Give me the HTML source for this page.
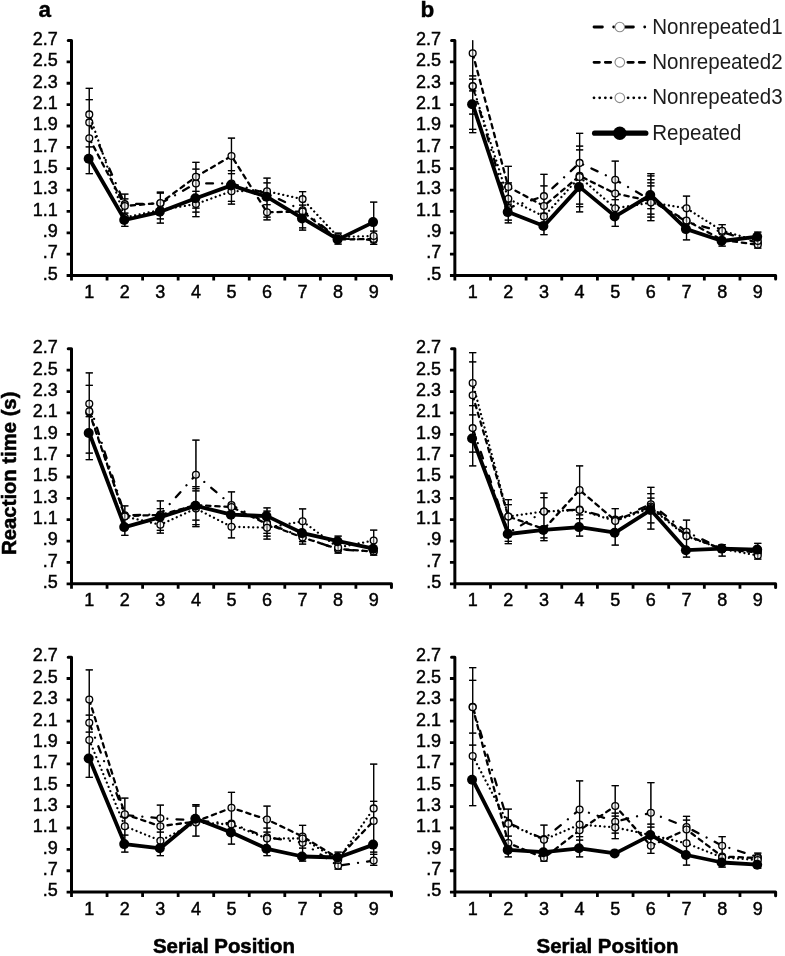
<!DOCTYPE html>
<html lang="en"><head><meta charset="utf-8"><title>Reaction time by serial position</title>
<style>html,body{margin:0;padding:0;background:#fff}svg{display:block;filter:blur(.45px)}text{font-family:"Liberation Sans",Arial,Helvetica,sans-serif;fill:#000}.tk{font-size:18px;stroke:#000;stroke-width:.45px}.tt{font-size:20.45px;font-weight:bold;stroke:#000;stroke-width:.55px}.pl{font-size:22.5px;font-weight:bold;stroke:#000;stroke-width:.4px}.lg{font-size:21.3px;fill:#1c1c1c}.ax{fill:none;stroke:#000;stroke-width:3;stroke-linejoin:round;stroke-linecap:round}.t{stroke:#000;stroke-width:2.8;stroke-linecap:butt}.ln{fill:none;stroke:#000;stroke-linecap:round;stroke-linejoin:round}.eb{stroke:#000;stroke-width:1.25;fill:none}.om{fill:#fff;fill-opacity:.9;stroke:#000;stroke-width:1.35}.fm{fill:#000}</style></head><body>
<svg width="785" height="956" viewBox="0 0 785 956">
<rect width="785" height="956" fill="#fff"/>
<g id="a1">
<path class="ax" d="M68.20 40.54H71.50V275.50H391.45V279.10"/>
<path class="t" d="M66.60 275.50H71.50M66.60 254.14H71.50M66.60 232.78H71.50M66.60 211.42H71.50M66.60 190.06H71.50M66.60 168.70H71.50M66.60 147.34H71.50M66.60 125.98H71.50M66.60 104.62H71.50M66.60 83.26H71.50M66.60 61.90H71.50M71.50 275.50V280.40M107.05 275.50V280.40M142.60 275.50V280.40M178.15 275.50V280.40M213.70 275.50V280.40M249.25 275.50V280.40M284.80 275.50V280.40M320.35 275.50V280.40M355.90 275.50V280.40"/>
<text class="tk" text-anchor="end" x="57.80" y="279.80">.5</text>
<text class="tk" text-anchor="end" x="57.80" y="258.44">.7</text>
<text class="tk" text-anchor="end" x="57.80" y="237.08">.9</text>
<text class="tk" text-anchor="end" x="57.80" y="215.72">1.1</text>
<text class="tk" text-anchor="end" x="57.80" y="194.36">1.3</text>
<text class="tk" text-anchor="end" x="57.80" y="173.00">1.5</text>
<text class="tk" text-anchor="end" x="57.80" y="151.64">1.7</text>
<text class="tk" text-anchor="end" x="57.80" y="130.28">1.9</text>
<text class="tk" text-anchor="end" x="57.80" y="108.92">2.1</text>
<text class="tk" text-anchor="end" x="57.80" y="87.56">2.3</text>
<text class="tk" text-anchor="end" x="57.80" y="66.20">2.5</text>
<text class="tk" text-anchor="end" x="57.80" y="44.84">2.7</text>
<text class="tk" text-anchor="middle" x="89.28" y="297.90">1</text>
<text class="tk" text-anchor="middle" x="124.82" y="297.90">2</text>
<text class="tk" text-anchor="middle" x="160.38" y="297.90">3</text>
<text class="tk" text-anchor="middle" x="195.92" y="297.90">4</text>
<text class="tk" text-anchor="middle" x="231.47" y="297.90">5</text>
<text class="tk" text-anchor="middle" x="267.02" y="297.90">6</text>
<text class="tk" text-anchor="middle" x="302.57" y="297.90">7</text>
<text class="tk" text-anchor="middle" x="338.12" y="297.90">8</text>
<text class="tk" text-anchor="middle" x="373.67" y="297.90">9</text>
<path class="eb" d="M89.28 88.30V173.60M85.68 88.30H92.88M85.68 99.70H92.88M85.68 146.90H92.88M85.68 173.60H92.88M124.82 194.00V226.40M121.22 194.00H128.42M121.22 198.80H128.42M121.22 213.00H128.42M121.22 226.40H128.42M160.38 192.00V223.20M156.78 192.00H163.97M156.78 193.00H163.97M156.78 218.80H163.97M156.78 223.20H163.97M195.92 162.40V216.50M192.32 162.40H199.52M192.32 169.10H199.52M192.32 191.40H199.52M192.32 208.00H199.52M192.32 212.00H199.52M192.32 216.50H199.52M231.47 138.00V204.20M227.88 138.00H235.07M227.88 170.50H235.07M227.88 173.60H235.07M227.88 201.40H235.07M227.88 204.20H235.07M267.02 178.20V219.90M263.42 178.20H270.62M263.42 182.80H270.62M263.42 204.50H270.62M263.42 217.20H270.62M263.42 219.90H270.62M302.57 191.50V230.20M298.97 191.50H306.18M298.97 205.00H306.18M298.97 227.90H306.18M298.97 230.20H306.18M338.12 233.00V244.00M334.52 233.00H341.73M334.52 244.00H341.73M373.67 202.00V244.30M370.07 202.00H377.27M370.07 231.00H377.27M370.07 244.30H377.27"/>
<polyline class="ln" stroke-width="2.3" stroke-dasharray="6.80 9.15 0.01 9.15" points="89.28,122.40 124.82,204.10 160.38,203.50 195.92,183.40 231.47,183.50 267.02,193.50 302.57,210.30 338.12,238.50 373.67,240.00"/>
<circle class="om" cx="89.28" cy="122.40" r="3.4"/>
<circle class="om" cx="124.82" cy="204.10" r="3.4"/>
<circle class="om" cx="160.38" cy="203.50" r="3.4"/>
<circle class="om" cx="195.92" cy="183.40" r="3.4"/>
<circle class="om" cx="231.47" cy="183.50" r="3.4"/>
<circle class="om" cx="267.02" cy="193.50" r="3.4"/>
<circle class="om" cx="302.57" cy="210.30" r="3.4"/>
<circle class="om" cx="338.12" cy="238.50" r="3.4"/>
<circle class="om" cx="373.67" cy="240.00" r="3.4"/>
<polyline class="ln" stroke-width="2.3" stroke-dasharray="4.37 4.78" points="89.28,138.30 124.82,206.00 160.38,203.00 195.92,176.75 231.47,156.00 267.02,212.30 302.57,211.50 338.12,239.50 373.67,239.00"/>
<circle class="om" cx="89.28" cy="138.30" r="3.4"/>
<circle class="om" cx="124.82" cy="206.00" r="3.4"/>
<circle class="om" cx="160.38" cy="203.00" r="3.4"/>
<circle class="om" cx="195.92" cy="176.75" r="3.4"/>
<circle class="om" cx="231.47" cy="156.00" r="3.4"/>
<circle class="om" cx="267.02" cy="212.30" r="3.4"/>
<circle class="om" cx="302.57" cy="211.50" r="3.4"/>
<circle class="om" cx="338.12" cy="239.50" r="3.4"/>
<circle class="om" cx="373.67" cy="239.00" r="3.4"/>
<polyline class="ln" stroke-width="2.3" stroke-dasharray="0.01 4.59" points="89.28,114.40 124.82,217.50 160.38,210.00 195.92,204.10 231.47,191.20 267.02,191.20 302.57,199.10 338.12,237.00 373.67,236.00"/>
<circle class="om" cx="89.28" cy="114.40" r="3.4"/>
<circle class="om" cx="124.82" cy="217.50" r="3.4"/>
<circle class="om" cx="160.38" cy="210.00" r="3.4"/>
<circle class="om" cx="195.92" cy="204.10" r="3.4"/>
<circle class="om" cx="231.47" cy="191.20" r="3.4"/>
<circle class="om" cx="267.02" cy="191.20" r="3.4"/>
<circle class="om" cx="302.57" cy="199.10" r="3.4"/>
<circle class="om" cx="338.12" cy="237.00" r="3.4"/>
<circle class="om" cx="373.67" cy="236.00" r="3.4"/>
<polyline class="ln" stroke-width="3.8" points="89.28,158.70 124.82,220.00 160.38,211.80 195.92,198.20 231.47,185.40 267.02,196.80 302.57,218.40 338.12,239.40 373.67,222.10"/>
<circle class="fm" cx="88.68" cy="158.70" r="5.0"/>
<circle class="fm" cx="124.22" cy="220.00" r="5.0"/>
<circle class="fm" cx="159.78" cy="211.80" r="5.0"/>
<circle class="fm" cx="195.32" cy="198.20" r="5.0"/>
<circle class="fm" cx="230.88" cy="185.40" r="5.0"/>
<circle class="fm" cx="266.42" cy="196.80" r="5.0"/>
<circle class="fm" cx="301.97" cy="218.40" r="5.0"/>
<circle class="fm" cx="337.52" cy="239.40" r="5.0"/>
<circle class="fm" cx="373.07" cy="222.10" r="5.0"/>
<path class="eb" stroke-opacity=".6" d="M89.28 88.30V173.60M85.68 88.30H92.88M85.68 99.70H92.88M85.68 146.90H92.88M85.68 173.60H92.88M124.82 194.00V226.40M121.22 194.00H128.42M121.22 198.80H128.42M121.22 213.00H128.42M121.22 226.40H128.42M160.38 192.00V223.20M156.78 192.00H163.97M156.78 193.00H163.97M156.78 218.80H163.97M156.78 223.20H163.97M195.92 162.40V216.50M192.32 162.40H199.52M192.32 169.10H199.52M192.32 191.40H199.52M192.32 208.00H199.52M192.32 212.00H199.52M192.32 216.50H199.52M231.47 138.00V204.20M227.88 138.00H235.07M227.88 170.50H235.07M227.88 173.60H235.07M227.88 201.40H235.07M227.88 204.20H235.07M267.02 178.20V219.90M263.42 178.20H270.62M263.42 182.80H270.62M263.42 204.50H270.62M263.42 217.20H270.62M263.42 219.90H270.62M302.57 191.50V230.20M298.97 191.50H306.18M298.97 205.00H306.18M298.97 227.90H306.18M298.97 230.20H306.18M338.12 233.00V244.00M334.52 233.00H341.73M334.52 244.00H341.73M373.67 202.00V244.30M370.07 202.00H377.27M370.07 231.00H377.27M370.07 244.30H377.27"/>
</g>
<g id="b1">
<path class="ax" d="M451.55 40.54H454.85V275.50H775.61V279.10"/>
<path class="t" d="M449.95 275.50H454.85M449.95 254.14H454.85M449.95 232.78H454.85M449.95 211.42H454.85M449.95 190.06H454.85M449.95 168.70H454.85M449.95 147.34H454.85M449.95 125.98H454.85M449.95 104.62H454.85M449.95 83.26H454.85M449.95 61.90H454.85M454.85 275.50V280.40M490.49 275.50V280.40M526.13 275.50V280.40M561.77 275.50V280.40M597.41 275.50V280.40M633.05 275.50V280.40M668.69 275.50V280.40M704.33 275.50V280.40M739.97 275.50V280.40"/>
<text class="tk" text-anchor="end" x="441.15" y="279.80">.5</text>
<text class="tk" text-anchor="end" x="441.15" y="258.44">.7</text>
<text class="tk" text-anchor="end" x="441.15" y="237.08">.9</text>
<text class="tk" text-anchor="end" x="441.15" y="215.72">1.1</text>
<text class="tk" text-anchor="end" x="441.15" y="194.36">1.3</text>
<text class="tk" text-anchor="end" x="441.15" y="173.00">1.5</text>
<text class="tk" text-anchor="end" x="441.15" y="151.64">1.7</text>
<text class="tk" text-anchor="end" x="441.15" y="130.28">1.9</text>
<text class="tk" text-anchor="end" x="441.15" y="108.92">2.1</text>
<text class="tk" text-anchor="end" x="441.15" y="87.56">2.3</text>
<text class="tk" text-anchor="end" x="441.15" y="66.20">2.5</text>
<text class="tk" text-anchor="end" x="441.15" y="44.84">2.7</text>
<text class="tk" text-anchor="middle" x="472.67" y="297.90">1</text>
<text class="tk" text-anchor="middle" x="508.31" y="297.90">2</text>
<text class="tk" text-anchor="middle" x="543.95" y="297.90">3</text>
<text class="tk" text-anchor="middle" x="579.59" y="297.90">4</text>
<text class="tk" text-anchor="middle" x="615.23" y="297.90">5</text>
<text class="tk" text-anchor="middle" x="650.87" y="297.90">6</text>
<text class="tk" text-anchor="middle" x="686.51" y="297.90">7</text>
<text class="tk" text-anchor="middle" x="722.15" y="297.90">8</text>
<text class="tk" text-anchor="middle" x="757.79" y="297.90">9</text>
<path class="eb" d="M472.67 40.20V132.50M469.07 75.90H476.27M469.07 79.00H476.27M469.07 90.90H476.27M469.07 114.00H476.27M469.07 129.40H476.27M469.07 132.50H476.27M508.31 166.40V222.80M504.71 166.40H511.91M504.71 182.80H511.91M504.71 201.90H511.91M504.71 204.20H511.91M504.71 206.50H511.91M504.71 220.20H511.91M504.71 222.80H511.91M543.95 174.30V234.70M540.35 174.30H547.55M540.35 185.80H547.55M540.35 213.30H547.55M540.35 234.70H547.55M579.59 133.40V211.80M575.99 133.40H583.19M575.99 146.00H583.19M575.99 149.90H583.19M575.99 204.20H583.19M575.99 206.50H583.19M575.99 211.80H583.19M615.23 161.00V226.30M611.63 161.00H618.83M611.63 199.60H618.83M611.63 226.30H618.83M650.87 173.60V220.50M647.27 173.60H654.47M647.27 175.90H654.47M647.27 179.70H654.47M647.27 182.80H654.47M647.27 185.80H654.47M647.27 208.70H654.47M647.27 214.10H654.47M647.27 217.20H654.47M647.27 220.50H654.47M686.51 196.00V239.80M682.91 196.00H690.11M682.91 239.80H690.11M722.15 224.50V246.00M718.55 224.50H725.75M718.55 246.00H725.75M757.79 232.00V248.00M754.19 232.00H761.39M754.19 248.00H761.39"/>
<polyline class="ln" stroke-width="2.3" stroke-dasharray="6.80 9.15 0.01 9.15" points="472.67,86.50 508.31,208.00 543.95,196.10 579.59,162.90 615.23,179.70 650.87,200.00 686.51,221.70 722.15,232.00 757.79,243.00"/>
<circle class="om" cx="472.67" cy="86.50" r="3.4"/>
<circle class="om" cx="508.31" cy="208.00" r="3.4"/>
<circle class="om" cx="543.95" cy="196.10" r="3.4"/>
<circle class="om" cx="579.59" cy="162.90" r="3.4"/>
<circle class="om" cx="615.23" cy="179.70" r="3.4"/>
<circle class="om" cx="650.87" cy="200.00" r="3.4"/>
<circle class="om" cx="686.51" cy="221.70" r="3.4"/>
<circle class="om" cx="722.15" cy="232.00" r="3.4"/>
<circle class="om" cx="757.79" cy="243.00" r="3.4"/>
<polyline class="ln" stroke-width="2.3" stroke-dasharray="4.37 4.78" points="472.67,53.30 508.31,186.90 543.95,206.00 579.59,175.90 615.23,193.50 650.87,201.00 686.51,220.50 722.15,240.00 757.79,244.70"/>
<circle class="om" cx="472.67" cy="53.30" r="3.4"/>
<circle class="om" cx="508.31" cy="186.90" r="3.4"/>
<circle class="om" cx="543.95" cy="206.00" r="3.4"/>
<circle class="om" cx="579.59" cy="175.90" r="3.4"/>
<circle class="om" cx="615.23" cy="193.50" r="3.4"/>
<circle class="om" cx="650.87" cy="201.00" r="3.4"/>
<circle class="om" cx="686.51" cy="220.50" r="3.4"/>
<circle class="om" cx="722.15" cy="240.00" r="3.4"/>
<circle class="om" cx="757.79" cy="244.70" r="3.4"/>
<polyline class="ln" stroke-width="2.3" stroke-dasharray="0.01 4.59" points="472.67,86.10 508.31,198.80 543.95,216.40 579.59,177.00 615.23,208.30 650.87,202.60 686.51,208.30 722.15,230.80 757.79,241.00"/>
<circle class="om" cx="472.67" cy="86.10" r="3.4"/>
<circle class="om" cx="508.31" cy="198.80" r="3.4"/>
<circle class="om" cx="543.95" cy="216.40" r="3.4"/>
<circle class="om" cx="579.59" cy="177.00" r="3.4"/>
<circle class="om" cx="615.23" cy="208.30" r="3.4"/>
<circle class="om" cx="650.87" cy="202.60" r="3.4"/>
<circle class="om" cx="686.51" cy="208.30" r="3.4"/>
<circle class="om" cx="722.15" cy="230.80" r="3.4"/>
<circle class="om" cx="757.79" cy="241.00" r="3.4"/>
<polyline class="ln" stroke-width="3.8" points="472.67,104.30 508.31,212.10 543.95,225.90 579.59,186.90 615.23,216.40 650.87,195.00 686.51,229.10 722.15,241.00 757.79,236.70"/>
<circle class="fm" cx="472.07" cy="104.30" r="5.0"/>
<circle class="fm" cx="507.71" cy="212.10" r="5.0"/>
<circle class="fm" cx="543.35" cy="225.90" r="5.0"/>
<circle class="fm" cx="578.99" cy="186.90" r="5.0"/>
<circle class="fm" cx="614.63" cy="216.40" r="5.0"/>
<circle class="fm" cx="650.27" cy="195.00" r="5.0"/>
<circle class="fm" cx="685.91" cy="229.10" r="5.0"/>
<circle class="fm" cx="721.55" cy="241.00" r="5.0"/>
<circle class="fm" cx="757.19" cy="236.70" r="5.0"/>
<path class="eb" stroke-opacity=".6" d="M472.67 40.20V132.50M469.07 75.90H476.27M469.07 79.00H476.27M469.07 90.90H476.27M469.07 114.00H476.27M469.07 129.40H476.27M469.07 132.50H476.27M508.31 166.40V222.80M504.71 166.40H511.91M504.71 182.80H511.91M504.71 201.90H511.91M504.71 204.20H511.91M504.71 206.50H511.91M504.71 220.20H511.91M504.71 222.80H511.91M543.95 174.30V234.70M540.35 174.30H547.55M540.35 185.80H547.55M540.35 213.30H547.55M540.35 234.70H547.55M579.59 133.40V211.80M575.99 133.40H583.19M575.99 146.00H583.19M575.99 149.90H583.19M575.99 204.20H583.19M575.99 206.50H583.19M575.99 211.80H583.19M615.23 161.00V226.30M611.63 161.00H618.83M611.63 199.60H618.83M611.63 226.30H618.83M650.87 173.60V220.50M647.27 173.60H654.47M647.27 175.90H654.47M647.27 179.70H654.47M647.27 182.80H654.47M647.27 185.80H654.47M647.27 208.70H654.47M647.27 214.10H654.47M647.27 217.20H654.47M647.27 220.50H654.47M686.51 196.00V239.80M682.91 196.00H690.11M682.91 239.80H690.11M722.15 224.50V246.00M718.55 224.50H725.75M718.55 246.00H725.75M757.79 232.00V248.00M754.19 232.00H761.39M754.19 248.00H761.39"/>
</g>
<g id="a2">
<path class="ax" d="M68.20 348.84H71.50V583.80H391.45V587.40"/>
<path class="t" d="M66.60 583.80H71.50M66.60 562.44H71.50M66.60 541.08H71.50M66.60 519.72H71.50M66.60 498.36H71.50M66.60 477.00H71.50M66.60 455.64H71.50M66.60 434.28H71.50M66.60 412.92H71.50M66.60 391.56H71.50M66.60 370.20H71.50M71.50 583.80V588.70M107.05 583.80V588.70M142.60 583.80V588.70M178.15 583.80V588.70M213.70 583.80V588.70M249.25 583.80V588.70M284.80 583.80V588.70M320.35 583.80V588.70M355.90 583.80V588.70"/>
<text class="tk" text-anchor="end" x="57.80" y="588.10">.5</text>
<text class="tk" text-anchor="end" x="57.80" y="566.74">.7</text>
<text class="tk" text-anchor="end" x="57.80" y="545.38">.9</text>
<text class="tk" text-anchor="end" x="57.80" y="524.02">1.1</text>
<text class="tk" text-anchor="end" x="57.80" y="502.66">1.3</text>
<text class="tk" text-anchor="end" x="57.80" y="481.30">1.5</text>
<text class="tk" text-anchor="end" x="57.80" y="459.94">1.7</text>
<text class="tk" text-anchor="end" x="57.80" y="438.58">1.9</text>
<text class="tk" text-anchor="end" x="57.80" y="417.22">2.1</text>
<text class="tk" text-anchor="end" x="57.80" y="395.86">2.3</text>
<text class="tk" text-anchor="end" x="57.80" y="374.50">2.5</text>
<text class="tk" text-anchor="end" x="57.80" y="353.14">2.7</text>
<text class="tk" text-anchor="middle" x="89.28" y="606.20">1</text>
<text class="tk" text-anchor="middle" x="124.82" y="606.20">2</text>
<text class="tk" text-anchor="middle" x="160.38" y="606.20">3</text>
<text class="tk" text-anchor="middle" x="195.92" y="606.20">4</text>
<text class="tk" text-anchor="middle" x="231.47" y="606.20">5</text>
<text class="tk" text-anchor="middle" x="267.02" y="606.20">6</text>
<text class="tk" text-anchor="middle" x="302.57" y="606.20">7</text>
<text class="tk" text-anchor="middle" x="338.12" y="606.20">8</text>
<text class="tk" text-anchor="middle" x="373.67" y="606.20">9</text>
<path class="eb" d="M89.28 372.80V459.70M85.68 372.80H92.88M85.68 385.40H92.88M85.68 416.50H92.88M85.68 453.10H92.88M85.68 459.70H92.88M124.82 505.80V535.40M121.22 505.80H128.42M121.22 535.40H128.42M160.38 500.80V533.10M156.78 500.80H163.97M156.78 508.70H163.97M156.78 530.30H163.97M156.78 533.10H163.97M195.92 440.00V526.50M192.32 440.00H199.52M192.32 486.50H199.52M192.32 488.50H199.52M192.32 490.80H199.52M192.32 520.00H199.52M192.32 524.70H199.52M192.32 526.50H199.52M231.47 491.90V537.90M227.88 491.90H235.07M227.88 537.90H235.07M267.02 507.90V539.10M263.42 507.90H270.62M263.42 511.10H270.62M263.42 533.40H270.62M263.42 536.10H270.62M263.42 539.10H270.62M302.57 508.80V544.00M298.97 508.80H306.18M298.97 541.50H306.18M298.97 544.00H306.18M338.12 536.00V553.00M334.52 536.00H341.73M334.52 553.00H341.73M373.67 530.20V555.00M370.07 530.20H377.27M370.07 555.00H377.27"/>
<polyline class="ln" stroke-width="2.3" stroke-dasharray="6.80 9.15 0.01 9.15" points="89.28,403.70 124.82,515.20 160.38,514.50 195.92,474.80 231.47,505.00 267.02,523.10 302.57,537.00 338.12,549.40 373.67,551.50"/>
<circle class="om" cx="89.28" cy="403.70" r="3.4"/>
<circle class="om" cx="124.82" cy="515.20" r="3.4"/>
<circle class="om" cx="160.38" cy="514.50" r="3.4"/>
<circle class="om" cx="195.92" cy="474.80" r="3.4"/>
<circle class="om" cx="231.47" cy="505.00" r="3.4"/>
<circle class="om" cx="267.02" cy="523.10" r="3.4"/>
<circle class="om" cx="302.57" cy="537.00" r="3.4"/>
<circle class="om" cx="338.12" cy="549.40" r="3.4"/>
<circle class="om" cx="373.67" cy="551.50" r="3.4"/>
<polyline class="ln" stroke-width="2.3" stroke-dasharray="4.37 4.78" points="89.28,412.50 124.82,516.00 160.38,515.00 195.92,505.00 231.47,507.00 267.02,524.00 302.57,537.50 338.12,549.00 373.67,551.50"/>
<circle class="om" cx="89.28" cy="412.50" r="3.4"/>
<circle class="om" cx="124.82" cy="516.00" r="3.4"/>
<circle class="om" cx="160.38" cy="515.00" r="3.4"/>
<circle class="om" cx="195.92" cy="505.00" r="3.4"/>
<circle class="om" cx="231.47" cy="507.00" r="3.4"/>
<circle class="om" cx="267.02" cy="524.00" r="3.4"/>
<circle class="om" cx="302.57" cy="537.50" r="3.4"/>
<circle class="om" cx="338.12" cy="549.00" r="3.4"/>
<circle class="om" cx="373.67" cy="551.50" r="3.4"/>
<polyline class="ln" stroke-width="2.3" stroke-dasharray="0.01 4.59" points="89.28,411.20 124.82,516.50 160.38,524.70 195.92,508.50 231.47,526.80 267.02,527.70 302.57,521.30 338.12,547.50 373.67,540.50"/>
<circle class="om" cx="89.28" cy="411.20" r="3.4"/>
<circle class="om" cx="124.82" cy="516.50" r="3.4"/>
<circle class="om" cx="160.38" cy="524.70" r="3.4"/>
<circle class="om" cx="195.92" cy="508.50" r="3.4"/>
<circle class="om" cx="231.47" cy="526.80" r="3.4"/>
<circle class="om" cx="267.02" cy="527.70" r="3.4"/>
<circle class="om" cx="302.57" cy="521.30" r="3.4"/>
<circle class="om" cx="338.12" cy="547.50" r="3.4"/>
<circle class="om" cx="373.67" cy="540.50" r="3.4"/>
<polyline class="ln" stroke-width="3.8" points="89.28,433.00 124.82,527.10 160.38,517.10 195.92,505.80 231.47,514.70 267.02,516.10 302.57,533.10 338.12,541.20 373.67,548.70"/>
<circle class="fm" cx="88.68" cy="433.00" r="5.0"/>
<circle class="fm" cx="124.22" cy="527.10" r="5.0"/>
<circle class="fm" cx="159.78" cy="517.10" r="5.0"/>
<circle class="fm" cx="195.32" cy="505.80" r="5.0"/>
<circle class="fm" cx="230.88" cy="514.70" r="5.0"/>
<circle class="fm" cx="266.42" cy="516.10" r="5.0"/>
<circle class="fm" cx="301.97" cy="533.10" r="5.0"/>
<circle class="fm" cx="337.52" cy="541.20" r="5.0"/>
<circle class="fm" cx="373.07" cy="548.70" r="5.0"/>
<path class="eb" stroke-opacity=".6" d="M89.28 372.80V459.70M85.68 372.80H92.88M85.68 385.40H92.88M85.68 416.50H92.88M85.68 453.10H92.88M85.68 459.70H92.88M124.82 505.80V535.40M121.22 505.80H128.42M121.22 535.40H128.42M160.38 500.80V533.10M156.78 500.80H163.97M156.78 508.70H163.97M156.78 530.30H163.97M156.78 533.10H163.97M195.92 440.00V526.50M192.32 440.00H199.52M192.32 486.50H199.52M192.32 488.50H199.52M192.32 490.80H199.52M192.32 520.00H199.52M192.32 524.70H199.52M192.32 526.50H199.52M231.47 491.90V537.90M227.88 491.90H235.07M227.88 537.90H235.07M267.02 507.90V539.10M263.42 507.90H270.62M263.42 511.10H270.62M263.42 533.40H270.62M263.42 536.10H270.62M263.42 539.10H270.62M302.57 508.80V544.00M298.97 508.80H306.18M298.97 541.50H306.18M298.97 544.00H306.18M338.12 536.00V553.00M334.52 536.00H341.73M334.52 553.00H341.73M373.67 530.20V555.00M370.07 530.20H377.27M370.07 555.00H377.27"/>
</g>
<g id="b2">
<path class="ax" d="M451.55 348.84H454.85V583.80H775.61V587.40"/>
<path class="t" d="M449.95 583.80H454.85M449.95 562.44H454.85M449.95 541.08H454.85M449.95 519.72H454.85M449.95 498.36H454.85M449.95 477.00H454.85M449.95 455.64H454.85M449.95 434.28H454.85M449.95 412.92H454.85M449.95 391.56H454.85M449.95 370.20H454.85M454.85 583.80V588.70M490.49 583.80V588.70M526.13 583.80V588.70M561.77 583.80V588.70M597.41 583.80V588.70M633.05 583.80V588.70M668.69 583.80V588.70M704.33 583.80V588.70M739.97 583.80V588.70"/>
<text class="tk" text-anchor="end" x="441.15" y="588.10">.5</text>
<text class="tk" text-anchor="end" x="441.15" y="566.74">.7</text>
<text class="tk" text-anchor="end" x="441.15" y="545.38">.9</text>
<text class="tk" text-anchor="end" x="441.15" y="524.02">1.1</text>
<text class="tk" text-anchor="end" x="441.15" y="502.66">1.3</text>
<text class="tk" text-anchor="end" x="441.15" y="481.30">1.5</text>
<text class="tk" text-anchor="end" x="441.15" y="459.94">1.7</text>
<text class="tk" text-anchor="end" x="441.15" y="438.58">1.9</text>
<text class="tk" text-anchor="end" x="441.15" y="417.22">2.1</text>
<text class="tk" text-anchor="end" x="441.15" y="395.86">2.3</text>
<text class="tk" text-anchor="end" x="441.15" y="374.50">2.5</text>
<text class="tk" text-anchor="end" x="441.15" y="353.14">2.7</text>
<text class="tk" text-anchor="middle" x="472.67" y="606.20">1</text>
<text class="tk" text-anchor="middle" x="508.31" y="606.20">2</text>
<text class="tk" text-anchor="middle" x="543.95" y="606.20">3</text>
<text class="tk" text-anchor="middle" x="579.59" y="606.20">4</text>
<text class="tk" text-anchor="middle" x="615.23" y="606.20">5</text>
<text class="tk" text-anchor="middle" x="650.87" y="606.20">6</text>
<text class="tk" text-anchor="middle" x="686.51" y="606.20">7</text>
<text class="tk" text-anchor="middle" x="722.15" y="606.20">8</text>
<text class="tk" text-anchor="middle" x="757.79" y="606.20">9</text>
<path class="eb" d="M472.67 352.70V465.90M469.07 352.70H476.27M469.07 361.90H476.27M469.07 405.60H476.27M469.07 414.80H476.27M469.07 452.10H476.27M469.07 465.90H476.27M508.31 499.50V543.70M504.71 499.50H511.91M504.71 504.60H511.91M504.71 541.40H511.91M504.71 543.70H511.91M543.95 493.00V540.70M540.35 493.00H547.55M540.35 497.70H547.55M540.35 537.90H547.55M540.35 540.70H547.55M579.59 465.90V536.20M575.99 465.90H583.19M575.99 514.90H583.19M575.99 518.50H583.19M575.99 536.20H583.19M615.23 508.70V545.20M611.63 508.70H618.83M611.63 545.20H618.83M650.87 487.30V529.20M647.27 487.30H654.47M647.27 493.50H654.47M647.27 498.00H654.47M647.27 522.90H654.47M647.27 529.20H654.47M686.51 520.00V557.00M682.91 520.00H690.11M682.91 557.00H690.11M722.15 544.50V556.20M718.55 544.50H725.75M718.55 556.20H725.75M757.79 543.30V559.00M754.19 543.30H761.39M754.19 559.00H761.39"/>
<polyline class="ln" stroke-width="2.3" stroke-dasharray="6.80 9.15 0.01 9.15" points="472.67,428.10 508.31,533.00 543.95,511.50 579.59,509.60 615.23,519.50 650.87,504.20 686.51,531.80 722.15,549.00 757.79,551.50"/>
<circle class="om" cx="472.67" cy="428.10" r="3.4"/>
<circle class="om" cx="508.31" cy="533.00" r="3.4"/>
<circle class="om" cx="543.95" cy="511.50" r="3.4"/>
<circle class="om" cx="579.59" cy="509.60" r="3.4"/>
<circle class="om" cx="615.23" cy="519.50" r="3.4"/>
<circle class="om" cx="650.87" cy="504.20" r="3.4"/>
<circle class="om" cx="686.51" cy="531.80" r="3.4"/>
<circle class="om" cx="722.15" cy="549.00" r="3.4"/>
<circle class="om" cx="757.79" cy="551.50" r="3.4"/>
<polyline class="ln" stroke-width="2.3" stroke-dasharray="4.37 4.78" points="472.67,395.20 508.31,516.50 543.95,529.00 579.59,490.00 615.23,520.50 650.87,506.50 686.51,535.50 722.15,549.00 757.79,552.50"/>
<circle class="om" cx="472.67" cy="395.20" r="3.4"/>
<circle class="om" cx="508.31" cy="516.50" r="3.4"/>
<circle class="om" cx="543.95" cy="529.00" r="3.4"/>
<circle class="om" cx="579.59" cy="490.00" r="3.4"/>
<circle class="om" cx="615.23" cy="520.50" r="3.4"/>
<circle class="om" cx="650.87" cy="506.50" r="3.4"/>
<circle class="om" cx="686.51" cy="535.50" r="3.4"/>
<circle class="om" cx="722.15" cy="549.00" r="3.4"/>
<circle class="om" cx="757.79" cy="552.50" r="3.4"/>
<polyline class="ln" stroke-width="2.3" stroke-dasharray="0.01 4.59" points="472.67,383.00 508.31,516.50 543.95,511.50 579.59,510.00 615.23,521.00 650.87,508.00 686.51,536.30 722.15,549.00 757.79,555.40"/>
<circle class="om" cx="472.67" cy="383.00" r="3.4"/>
<circle class="om" cx="508.31" cy="516.50" r="3.4"/>
<circle class="om" cx="543.95" cy="511.50" r="3.4"/>
<circle class="om" cx="579.59" cy="510.00" r="3.4"/>
<circle class="om" cx="615.23" cy="521.00" r="3.4"/>
<circle class="om" cx="650.87" cy="508.00" r="3.4"/>
<circle class="om" cx="686.51" cy="536.30" r="3.4"/>
<circle class="om" cx="722.15" cy="549.00" r="3.4"/>
<circle class="om" cx="757.79" cy="555.40" r="3.4"/>
<polyline class="ln" stroke-width="3.8" points="472.67,438.50 508.31,534.00 543.95,529.90 579.59,527.10 615.23,532.70 650.87,509.90 686.51,550.20 722.15,548.60 757.79,549.60"/>
<circle class="fm" cx="472.07" cy="438.50" r="5.0"/>
<circle class="fm" cx="507.71" cy="534.00" r="5.0"/>
<circle class="fm" cx="543.35" cy="529.90" r="5.0"/>
<circle class="fm" cx="578.99" cy="527.10" r="5.0"/>
<circle class="fm" cx="614.63" cy="532.70" r="5.0"/>
<circle class="fm" cx="650.27" cy="509.90" r="5.0"/>
<circle class="fm" cx="685.91" cy="550.20" r="5.0"/>
<circle class="fm" cx="721.55" cy="548.60" r="5.0"/>
<circle class="fm" cx="757.19" cy="549.60" r="5.0"/>
<path class="eb" stroke-opacity=".6" d="M472.67 352.70V465.90M469.07 352.70H476.27M469.07 361.90H476.27M469.07 405.60H476.27M469.07 414.80H476.27M469.07 452.10H476.27M469.07 465.90H476.27M508.31 499.50V543.70M504.71 499.50H511.91M504.71 504.60H511.91M504.71 541.40H511.91M504.71 543.70H511.91M543.95 493.00V540.70M540.35 493.00H547.55M540.35 497.70H547.55M540.35 537.90H547.55M540.35 540.70H547.55M579.59 465.90V536.20M575.99 465.90H583.19M575.99 514.90H583.19M575.99 518.50H583.19M575.99 536.20H583.19M615.23 508.70V545.20M611.63 508.70H618.83M611.63 545.20H618.83M650.87 487.30V529.20M647.27 487.30H654.47M647.27 493.50H654.47M647.27 498.00H654.47M647.27 522.90H654.47M647.27 529.20H654.47M686.51 520.00V557.00M682.91 520.00H690.11M682.91 557.00H690.11M722.15 544.50V556.20M718.55 544.50H725.75M718.55 556.20H725.75M757.79 543.30V559.00M754.19 543.30H761.39M754.19 559.00H761.39"/>
</g>
<g id="a3">
<path class="ax" d="M68.20 657.14H71.50V892.10H391.45V895.70"/>
<path class="t" d="M66.60 892.10H71.50M66.60 870.74H71.50M66.60 849.38H71.50M66.60 828.02H71.50M66.60 806.66H71.50M66.60 785.30H71.50M66.60 763.94H71.50M66.60 742.58H71.50M66.60 721.22H71.50M66.60 699.86H71.50M66.60 678.50H71.50M71.50 892.10V897.00M107.05 892.10V897.00M142.60 892.10V897.00M178.15 892.10V897.00M213.70 892.10V897.00M249.25 892.10V897.00M284.80 892.10V897.00M320.35 892.10V897.00M355.90 892.10V897.00"/>
<text class="tk" text-anchor="end" x="57.80" y="896.40">.5</text>
<text class="tk" text-anchor="end" x="57.80" y="875.04">.7</text>
<text class="tk" text-anchor="end" x="57.80" y="853.68">.9</text>
<text class="tk" text-anchor="end" x="57.80" y="832.32">1.1</text>
<text class="tk" text-anchor="end" x="57.80" y="810.96">1.3</text>
<text class="tk" text-anchor="end" x="57.80" y="789.60">1.5</text>
<text class="tk" text-anchor="end" x="57.80" y="768.24">1.7</text>
<text class="tk" text-anchor="end" x="57.80" y="746.88">1.9</text>
<text class="tk" text-anchor="end" x="57.80" y="725.52">2.1</text>
<text class="tk" text-anchor="end" x="57.80" y="704.16">2.3</text>
<text class="tk" text-anchor="end" x="57.80" y="682.80">2.5</text>
<text class="tk" text-anchor="end" x="57.80" y="661.44">2.7</text>
<text class="tk" text-anchor="middle" x="89.28" y="914.50">1</text>
<text class="tk" text-anchor="middle" x="124.82" y="914.50">2</text>
<text class="tk" text-anchor="middle" x="160.38" y="914.50">3</text>
<text class="tk" text-anchor="middle" x="195.92" y="914.50">4</text>
<text class="tk" text-anchor="middle" x="231.47" y="914.50">5</text>
<text class="tk" text-anchor="middle" x="267.02" y="914.50">6</text>
<text class="tk" text-anchor="middle" x="302.57" y="914.50">7</text>
<text class="tk" text-anchor="middle" x="338.12" y="914.50">8</text>
<text class="tk" text-anchor="middle" x="373.67" y="914.50">9</text>
<path class="eb" d="M89.28 669.90V777.40M85.68 669.90H92.88M85.68 715.00H92.88M85.68 732.00H92.88M85.68 777.40H92.88M124.82 798.10V852.20M121.22 798.10H128.42M121.22 835.00H128.42M121.22 852.20H128.42M160.38 805.00V855.60M156.78 805.00H163.97M156.78 832.00H163.97M156.78 855.60H163.97M195.92 804.50V836.00M192.32 804.50H199.52M192.32 806.00H199.52M192.32 836.00H199.52M231.47 792.30V844.00M227.88 792.30H235.07M227.88 844.00H235.07M267.02 806.00V855.60M263.42 806.00H270.62M263.42 828.00H270.62M263.42 832.00H270.62M263.42 855.60H270.62M302.57 825.30V861.00M298.97 825.30H306.18M298.97 848.00H306.18M298.97 861.00H306.18M338.12 852.00V869.00M334.52 852.00H341.73M334.52 869.00H341.73M373.67 764.10V865.30M370.07 764.10H377.27M370.07 801.30H377.27M370.07 852.00H377.27M370.07 854.30H377.27M370.07 865.30H377.27"/>
<polyline class="ln" stroke-width="2.3" stroke-dasharray="6.80 9.15 0.01 9.15" points="89.28,722.80 124.82,815.00 160.38,818.30 195.92,820.50 231.47,823.50 267.02,837.20 302.57,842.70 338.12,865.80 373.67,860.60"/>
<circle class="om" cx="89.28" cy="722.80" r="3.4"/>
<circle class="om" cx="124.82" cy="815.00" r="3.4"/>
<circle class="om" cx="160.38" cy="818.30" r="3.4"/>
<circle class="om" cx="195.92" cy="820.50" r="3.4"/>
<circle class="om" cx="231.47" cy="823.50" r="3.4"/>
<circle class="om" cx="267.02" cy="837.20" r="3.4"/>
<circle class="om" cx="302.57" cy="842.70" r="3.4"/>
<circle class="om" cx="338.12" cy="865.80" r="3.4"/>
<circle class="om" cx="373.67" cy="860.60" r="3.4"/>
<polyline class="ln" stroke-width="2.3" stroke-dasharray="4.37 4.78" points="89.28,699.60 124.82,814.20 160.38,826.20 195.92,821.50 231.47,807.80 267.02,819.50 302.57,836.50 338.12,858.00 373.67,820.90"/>
<circle class="om" cx="89.28" cy="699.60" r="3.4"/>
<circle class="om" cx="124.82" cy="814.20" r="3.4"/>
<circle class="om" cx="160.38" cy="826.20" r="3.4"/>
<circle class="om" cx="195.92" cy="821.50" r="3.4"/>
<circle class="om" cx="231.47" cy="807.80" r="3.4"/>
<circle class="om" cx="267.02" cy="819.50" r="3.4"/>
<circle class="om" cx="302.57" cy="836.50" r="3.4"/>
<circle class="om" cx="338.12" cy="858.00" r="3.4"/>
<circle class="om" cx="373.67" cy="820.90" r="3.4"/>
<polyline class="ln" stroke-width="2.3" stroke-dasharray="0.01 4.59" points="89.28,740.10 124.82,826.20 160.38,840.70 195.92,822.50 231.47,824.50 267.02,838.50 302.57,838.50 338.12,860.00 373.67,808.40"/>
<circle class="om" cx="89.28" cy="740.10" r="3.4"/>
<circle class="om" cx="124.82" cy="826.20" r="3.4"/>
<circle class="om" cx="160.38" cy="840.70" r="3.4"/>
<circle class="om" cx="195.92" cy="822.50" r="3.4"/>
<circle class="om" cx="231.47" cy="824.50" r="3.4"/>
<circle class="om" cx="267.02" cy="838.50" r="3.4"/>
<circle class="om" cx="302.57" cy="838.50" r="3.4"/>
<circle class="om" cx="338.12" cy="860.00" r="3.4"/>
<circle class="om" cx="373.67" cy="808.40" r="3.4"/>
<polyline class="ln" stroke-width="3.8" points="89.28,758.50 124.82,844.10 160.38,848.30 195.92,818.80 231.47,832.40 267.02,848.80 302.57,856.50 338.12,857.50 373.67,844.60"/>
<circle class="fm" cx="88.68" cy="758.50" r="5.0"/>
<circle class="fm" cx="124.22" cy="844.10" r="5.0"/>
<circle class="fm" cx="159.78" cy="848.30" r="5.0"/>
<circle class="fm" cx="195.32" cy="818.80" r="5.0"/>
<circle class="fm" cx="230.88" cy="832.40" r="5.0"/>
<circle class="fm" cx="266.42" cy="848.80" r="5.0"/>
<circle class="fm" cx="301.97" cy="856.50" r="5.0"/>
<circle class="fm" cx="337.52" cy="857.50" r="5.0"/>
<circle class="fm" cx="373.07" cy="844.60" r="5.0"/>
<path class="eb" stroke-opacity=".6" d="M89.28 669.90V777.40M85.68 669.90H92.88M85.68 715.00H92.88M85.68 732.00H92.88M85.68 777.40H92.88M124.82 798.10V852.20M121.22 798.10H128.42M121.22 835.00H128.42M121.22 852.20H128.42M160.38 805.00V855.60M156.78 805.00H163.97M156.78 832.00H163.97M156.78 855.60H163.97M195.92 804.50V836.00M192.32 804.50H199.52M192.32 806.00H199.52M192.32 836.00H199.52M231.47 792.30V844.00M227.88 792.30H235.07M227.88 844.00H235.07M267.02 806.00V855.60M263.42 806.00H270.62M263.42 828.00H270.62M263.42 832.00H270.62M263.42 855.60H270.62M302.57 825.30V861.00M298.97 825.30H306.18M298.97 848.00H306.18M298.97 861.00H306.18M338.12 852.00V869.00M334.52 852.00H341.73M334.52 869.00H341.73M373.67 764.10V865.30M370.07 764.10H377.27M370.07 801.30H377.27M370.07 852.00H377.27M370.07 854.30H377.27M370.07 865.30H377.27"/>
</g>
<g id="b3">
<path class="ax" d="M451.55 657.14H454.85V892.10H775.61V895.70"/>
<path class="t" d="M449.95 892.10H454.85M449.95 870.74H454.85M449.95 849.38H454.85M449.95 828.02H454.85M449.95 806.66H454.85M449.95 785.30H454.85M449.95 763.94H454.85M449.95 742.58H454.85M449.95 721.22H454.85M449.95 699.86H454.85M449.95 678.50H454.85M454.85 892.10V897.00M490.49 892.10V897.00M526.13 892.10V897.00M561.77 892.10V897.00M597.41 892.10V897.00M633.05 892.10V897.00M668.69 892.10V897.00M704.33 892.10V897.00M739.97 892.10V897.00"/>
<text class="tk" text-anchor="end" x="441.15" y="896.40">.5</text>
<text class="tk" text-anchor="end" x="441.15" y="875.04">.7</text>
<text class="tk" text-anchor="end" x="441.15" y="853.68">.9</text>
<text class="tk" text-anchor="end" x="441.15" y="832.32">1.1</text>
<text class="tk" text-anchor="end" x="441.15" y="810.96">1.3</text>
<text class="tk" text-anchor="end" x="441.15" y="789.60">1.5</text>
<text class="tk" text-anchor="end" x="441.15" y="768.24">1.7</text>
<text class="tk" text-anchor="end" x="441.15" y="746.88">1.9</text>
<text class="tk" text-anchor="end" x="441.15" y="725.52">2.1</text>
<text class="tk" text-anchor="end" x="441.15" y="704.16">2.3</text>
<text class="tk" text-anchor="end" x="441.15" y="682.80">2.5</text>
<text class="tk" text-anchor="end" x="441.15" y="661.44">2.7</text>
<text class="tk" text-anchor="middle" x="472.67" y="914.50">1</text>
<text class="tk" text-anchor="middle" x="508.31" y="914.50">2</text>
<text class="tk" text-anchor="middle" x="543.95" y="914.50">3</text>
<text class="tk" text-anchor="middle" x="579.59" y="914.50">4</text>
<text class="tk" text-anchor="middle" x="615.23" y="914.50">5</text>
<text class="tk" text-anchor="middle" x="650.87" y="914.50">6</text>
<text class="tk" text-anchor="middle" x="686.51" y="914.50">7</text>
<text class="tk" text-anchor="middle" x="722.15" y="914.50">8</text>
<text class="tk" text-anchor="middle" x="757.79" y="914.50">9</text>
<path class="eb" d="M472.67 667.60V805.70M469.07 667.60H476.27M469.07 680.30H476.27M469.07 733.20H476.27M469.07 745.20H476.27M469.07 805.70H476.27M508.31 809.10V856.80M504.71 809.10H511.91M504.71 836.00H511.91M504.71 856.80H511.91M543.95 825.20V861.00M540.35 825.20H547.55M540.35 861.00H547.55M579.59 780.80V856.80M575.99 780.80H583.19M575.99 836.50H583.19M575.99 840.00H583.19M575.99 856.80H583.19M615.23 785.70V838.60M611.63 785.70H618.83M611.63 813.00H618.83M611.63 816.00H618.83M611.63 833.00H618.83M611.63 838.60H618.83M650.87 782.50V853.30M647.27 782.50H654.47M647.27 824.00H654.47M647.27 827.00H654.47M647.27 853.30H654.47M686.51 816.40V865.00M682.91 816.40H690.11M682.91 820.00H690.11M682.91 865.00H690.11M722.15 836.60V867.00M718.55 836.60H725.75M718.55 867.00H725.75M757.79 853.00V868.00M754.19 853.00H761.39M754.19 868.00H761.39"/>
<polyline class="ln" stroke-width="2.3" stroke-dasharray="6.80 9.15 0.01 9.15" points="472.67,706.70 508.31,822.90 543.95,839.10 579.59,809.60 615.23,821.70 650.87,812.80 686.51,827.00 722.15,845.70 757.79,857.00"/>
<circle class="om" cx="472.67" cy="706.70" r="3.4"/>
<circle class="om" cx="508.31" cy="822.90" r="3.4"/>
<circle class="om" cx="543.95" cy="839.10" r="3.4"/>
<circle class="om" cx="579.59" cy="809.60" r="3.4"/>
<circle class="om" cx="615.23" cy="821.70" r="3.4"/>
<circle class="om" cx="650.87" cy="812.80" r="3.4"/>
<circle class="om" cx="686.51" cy="827.00" r="3.4"/>
<circle class="om" cx="722.15" cy="845.70" r="3.4"/>
<circle class="om" cx="757.79" cy="857.00" r="3.4"/>
<polyline class="ln" stroke-width="2.3" stroke-dasharray="4.37 4.78" points="472.67,707.30 508.31,843.00 543.95,857.90 579.59,830.30 615.23,806.00 650.87,845.80 686.51,829.50 722.15,856.50 757.79,858.00"/>
<circle class="om" cx="472.67" cy="707.30" r="3.4"/>
<circle class="om" cx="508.31" cy="843.00" r="3.4"/>
<circle class="om" cx="543.95" cy="857.90" r="3.4"/>
<circle class="om" cx="579.59" cy="830.30" r="3.4"/>
<circle class="om" cx="615.23" cy="806.00" r="3.4"/>
<circle class="om" cx="650.87" cy="845.80" r="3.4"/>
<circle class="om" cx="686.51" cy="829.50" r="3.4"/>
<circle class="om" cx="722.15" cy="856.50" r="3.4"/>
<circle class="om" cx="757.79" cy="858.00" r="3.4"/>
<polyline class="ln" stroke-width="2.3" stroke-dasharray="0.01 4.59" points="472.67,756.00 508.31,823.80 543.95,839.70 579.59,824.60 615.23,827.40 650.87,835.00 686.51,843.30 722.15,857.50 757.79,860.00"/>
<circle class="om" cx="472.67" cy="756.00" r="3.4"/>
<circle class="om" cx="508.31" cy="823.80" r="3.4"/>
<circle class="om" cx="543.95" cy="839.70" r="3.4"/>
<circle class="om" cx="579.59" cy="824.60" r="3.4"/>
<circle class="om" cx="615.23" cy="827.40" r="3.4"/>
<circle class="om" cx="650.87" cy="835.00" r="3.4"/>
<circle class="om" cx="686.51" cy="843.30" r="3.4"/>
<circle class="om" cx="722.15" cy="857.50" r="3.4"/>
<circle class="om" cx="757.79" cy="860.00" r="3.4"/>
<polyline class="ln" stroke-width="3.8" points="472.67,779.70 508.31,849.90 543.95,852.20 579.59,848.30 615.23,853.40 650.87,835.10 686.51,855.00 722.15,862.50 757.79,864.70"/>
<circle class="fm" cx="472.07" cy="779.70" r="5.0"/>
<circle class="fm" cx="507.71" cy="849.90" r="5.0"/>
<circle class="fm" cx="543.35" cy="852.20" r="5.0"/>
<circle class="fm" cx="578.99" cy="848.30" r="5.0"/>
<circle class="fm" cx="614.63" cy="853.40" r="5.0"/>
<circle class="fm" cx="650.27" cy="835.10" r="5.0"/>
<circle class="fm" cx="685.91" cy="855.00" r="5.0"/>
<circle class="fm" cx="721.55" cy="862.50" r="5.0"/>
<circle class="fm" cx="757.19" cy="864.70" r="5.0"/>
<path class="eb" stroke-opacity=".6" d="M472.67 667.60V805.70M469.07 667.60H476.27M469.07 680.30H476.27M469.07 733.20H476.27M469.07 745.20H476.27M469.07 805.70H476.27M508.31 809.10V856.80M504.71 809.10H511.91M504.71 836.00H511.91M504.71 856.80H511.91M543.95 825.20V861.00M540.35 825.20H547.55M540.35 861.00H547.55M579.59 780.80V856.80M575.99 780.80H583.19M575.99 836.50H583.19M575.99 840.00H583.19M575.99 856.80H583.19M615.23 785.70V838.60M611.63 785.70H618.83M611.63 813.00H618.83M611.63 816.00H618.83M611.63 833.00H618.83M611.63 838.60H618.83M650.87 782.50V853.30M647.27 782.50H654.47M647.27 824.00H654.47M647.27 827.00H654.47M647.27 853.30H654.47M686.51 816.40V865.00M682.91 816.40H690.11M682.91 820.00H690.11M682.91 865.00H690.11M722.15 836.60V867.00M718.55 836.60H725.75M718.55 867.00H725.75M757.79 853.00V868.00M754.19 853.00H761.39M754.19 868.00H761.39"/>
</g>
<text class="pl" x="38.6" y="17.0">a</text>
<text class="pl" x="420.6" y="17.0">b</text>
<text class="tt" text-anchor="middle" x="223.9" y="953.3">Serial Position</text>
<text class="tt" text-anchor="middle" x="607.5" y="953.3">Serial Position</text>
<text class="tt" text-anchor="middle" transform="translate(16.3 473.2) rotate(-90)" style="font-size:20.25px">Reaction time (s)</text>
<path class="ln" stroke-width="2.8" stroke-dasharray="8.40 11.30 0.01 11.30" d="M594.00 27.0H646.20"/>
<circle cx="619.8" cy="27.0" r="4.8" fill="#fff" stroke="#8a8a8a" stroke-width="1.1"/>
<text class="lg" transform="translate(652.2 33.50) scale(0.966 1)">Nonrepeated1</text>
<path class="ln" stroke-width="2.8" stroke-dasharray="5.40 5.90" d="M594.00 62.3H646.20"/>
<circle cx="619.8" cy="62.3" r="4.8" fill="#fff" stroke="#8a8a8a" stroke-width="1.1"/>
<text class="lg" transform="translate(652.2 68.80) scale(0.966 1)">Nonrepeated2</text>
<path class="ln" stroke-width="2.8" stroke-dasharray="0.01 5.67" d="M594.00 97.8H646.20"/>
<circle cx="619.8" cy="97.8" r="4.8" fill="#fff" stroke="#8a8a8a" stroke-width="1.1"/>
<text class="lg" transform="translate(652.2 104.30) scale(0.966 1)">Nonrepeated3</text>
<path class="ln" stroke-width="5.2" d="M594.60 133.2H645.80"/>
<circle class="fm" cx="619.8" cy="133.2" r="6.7"/>
<text class="lg" transform="translate(652.2 139.70) scale(0.966 1)">Repeated</text>
</svg></body></html>
